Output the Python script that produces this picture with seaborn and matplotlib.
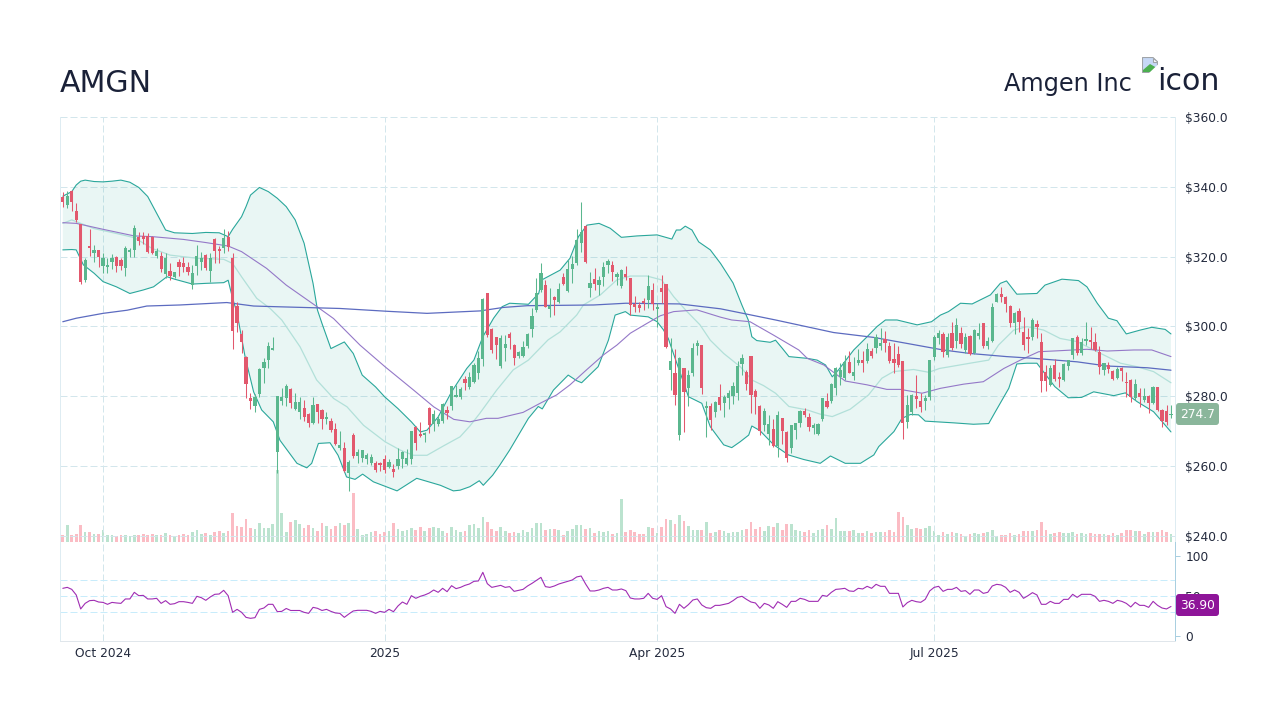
#!/usr/bin/env python3
# -*- coding: utf8 -*-

import numpy as np
import pandas as pd
import seaborn as sns
import matplotlib.pyplot as plt
from matplotlib.patches import FancyBboxPatch, Polygon
from matplotlib.transforms import IdentityTransform

symbol = 'AMGN'
company = 'Amgen Inc'

opens = [
    337.2, 334.8, 338.9, 333.0, 329.3, 313.3, 322.7, 321.1, 321.9, 317.4,
    317.1, 318.5, 320.0, 319.0, 316.6, 321.4, 322.0, 325.7, 326.0, 325.9,
    325.7, 320.1, 320.1, 315.0, 315.8, 314.0, 318.3, 318.1, 316.9, 311.8,
    317.3, 318.5, 320.4, 315.8, 325.0, 322.0, 322.3, 325.7, 319.5, 305.8,
    297.9, 291.2, 279.4, 277.1, 280.7, 287.9, 290.3, 293.3, 264.0, 278.6,
    279.3, 282.0, 276.4, 275.5, 276.7, 274.7, 272.4, 277.6, 275.9, 273.4,
    272.8, 270.5, 265.0, 265.0, 257.8, 268.8, 262.9, 262.3, 261.8, 260.7,
    260.8, 260.6, 261.9, 259.7, 259.0, 259.9, 261.8, 260.5, 261.8, 271.2,
    269.1, 268.8, 276.7, 271.9, 272.1, 272.9, 276.1, 277.1, 279.8, 279.8,
    284.8, 282.5, 284.1, 286.5, 290.5, 309.4, 299.1, 296.8, 288.5, 293.7,
    297.7, 294.6, 291.5, 291.5, 294.3, 299.1, 304.7, 310.4, 311.8, 305.0,
    308.5, 307.0, 314.0, 310.2, 316.3, 318.0, 324.0, 328.8, 311.0, 313.5,
    311.8, 314.2, 317.5, 317.5, 314.0, 311.5, 315.0, 313.7, 306.4, 306.1,
    307.2, 307.5, 310.4, 305.0, 311.1, 312.0, 287.5, 286.5, 268.8, 288.1,
    282.4, 286.5, 294.3, 294.6, 276.6, 277.1, 275.5, 279.6, 277.9, 279.3,
    280.0, 280.8, 289.2, 287.0, 291.5, 281.5, 277.1, 271.7, 269.1, 270.5,
    265.7, 273.6, 269.8, 265.2, 270.3, 272.4, 275.6, 274.1, 270.9, 269.1,
    273.3, 278.7, 278.7, 282.2, 285.4, 285.1, 289.8, 285.7, 289.4, 290.3,
    289.9, 293.0, 293.9, 294.3, 296.3, 294.3, 290.5, 292.1, 290.1, 272.6,
    275.5, 280.0, 278.6, 278.7, 279.6, 291.1, 296.7, 297.8, 291.8, 298.2,
    295.9, 298.2, 293.2, 297.3, 292.2, 297.3, 300.8, 294.3, 295.9, 307.0,
    309.2, 308.5, 305.8, 300.8, 304.4, 298.4, 297.0, 297.0, 300.6, 295.4,
    287.0, 283.1, 288.8, 285.5, 284.6, 288.6, 291.8, 296.8, 292.2, 295.8,
    295.9, 295.4, 292.7, 287.6, 288.9, 287.1, 285.3, 287.9, 284.1, 284.6,
    279.5, 280.9, 278.8, 280.0, 277.9, 282.5, 276.0, 275.7, 274.5]

closes = [
    335.7, 337.3, 335.5, 330.5, 312.8, 319.0, 322.5, 322.0, 319.8, 319.5,
    317.6, 319.6, 317.4, 317.4, 322.5, 321.9, 328.3, 324.5, 325.0, 321.4,
    320.9, 321.7, 316.4, 319.5, 314.4, 315.5, 316.9, 317.1, 315.6, 315.4,
    320.1, 319.5, 316.6, 319.5, 321.7, 321.7, 325.2, 322.6, 298.7, 301.0,
    295.5, 283.3, 278.6, 279.6, 287.7, 289.8, 294.3, 293.9, 280.0, 279.8,
    282.8, 277.9, 278.2, 278.2, 274.0, 272.3, 277.3, 275.5, 273.3, 274.0,
    270.2, 266.2, 265.9, 258.6, 261.0, 262.8, 264.0, 264.4, 263.0, 262.4,
    258.9, 260.3, 258.7, 261.0, 258.3, 261.8, 264.0, 262.1, 269.9, 266.6,
    268.5, 269.5, 271.6, 274.7, 273.3, 277.6, 275.2, 282.8, 280.1, 281.9,
    283.8, 285.5, 288.9, 291.0, 307.7, 297.5, 293.2, 294.6, 296.5, 294.9,
    296.7, 290.8, 292.7, 294.0, 297.8, 302.9, 309.4, 315.4, 305.6, 305.8,
    307.5, 310.7, 312.0, 316.4, 317.8, 324.7, 327.1, 318.5, 312.3, 312.1,
    313.4, 316.9, 318.7, 315.6, 315.0, 316.1, 314.0, 306.1, 305.4, 305.3,
    306.6, 311.4, 306.4, 305.5, 309.7, 294.1, 289.9, 280.3, 290.8, 281.2,
    286.0, 293.7, 295.3, 282.2, 277.1, 273.1, 278.4, 277.4, 279.6, 280.8,
    282.9, 288.6, 290.8, 283.4, 280.3, 279.8, 270.1, 275.8, 272.0, 265.7,
    274.6, 270.1, 262.1, 271.7, 272.4, 275.7, 274.6, 271.0, 271.7, 272.0,
    279.3, 276.8, 283.4, 287.9, 287.5, 289.8, 286.7, 286.8, 290.3, 289.6,
    293.4, 291.6, 297.0, 295.3, 295.3, 289.9, 289.4, 288.9, 272.2, 277.4,
    280.3, 279.0, 276.8, 279.3, 290.3, 296.8, 298.0, 292.7, 296.8, 293.9,
    300.4, 294.9, 297.0, 292.0, 298.9, 298.0, 294.4, 295.8, 305.6, 309.2,
    308.5, 306.3, 301.0, 303.7, 301.3, 294.6, 296.3, 301.8, 299.9, 284.4,
    284.4, 288.1, 284.8, 284.8, 289.2, 290.3, 296.5, 292.2, 295.6, 296.3,
    295.6, 293.2, 288.4, 289.4, 287.7, 285.0, 287.7, 287.2, 283.6, 279.8,
    283.4, 279.8, 280.0, 278.1, 282.7, 276.0, 272.9, 272.6, 274.7]

highs = [
    338.6, 338.9, 339.1, 335.2, 329.3, 319.7, 327.8, 323.3, 322.0, 320.9,
    319.5, 320.6, 320.1, 319.5, 323.0, 322.3, 329.0, 327.0, 327.1, 326.6,
    325.9, 322.3, 321.4, 320.9, 318.2, 315.7, 319.2, 319.9, 318.5, 317.6,
    323.3, 321.4, 320.6, 320.9, 325.2, 323.0, 328.0, 327.4, 321.1, 307.0,
    298.9, 291.4, 280.9, 280.7, 288.1, 290.8, 295.4, 297.0, 280.0, 282.4,
    283.3, 282.2, 280.9, 279.6, 278.8, 275.0, 279.8, 277.7, 276.4, 275.5,
    273.8, 272.4, 270.0, 266.9, 261.6, 269.3, 264.7, 264.5, 263.7, 263.3,
    261.3, 261.1, 263.2, 261.8, 260.6, 265.0, 264.2, 264.7, 270.0, 271.4,
    272.6, 269.7, 276.9, 276.1, 274.5, 277.9, 277.1, 283.0, 283.1, 282.5,
    285.7, 287.0, 289.6, 293.0, 308.0, 309.5, 299.4, 297.0, 297.5, 297.5,
    298.4, 294.9, 293.0, 295.9, 298.0, 305.1, 313.7, 318.0, 313.2, 310.9,
    308.7, 312.3, 315.2, 319.0, 320.2, 328.0, 335.7, 329.0, 315.6, 316.6,
    314.4, 318.5, 319.2, 318.8, 315.6, 316.3, 317.3, 313.9, 308.7, 307.0,
    308.0, 314.7, 312.5, 306.6, 314.7, 312.0, 296.5, 293.5, 291.3, 288.1,
    287.5, 295.1, 296.0, 294.6, 278.5, 278.1, 278.6, 283.3, 280.3, 281.7,
    284.1, 289.9, 292.0, 287.6, 291.5, 282.0, 277.4, 276.5, 274.6, 273.4,
    275.8, 273.8, 270.0, 271.7, 272.4, 276.0, 276.7, 275.2, 272.4, 272.4,
    279.5, 281.0, 283.6, 288.4, 289.4, 291.8, 293.0, 291.3, 293.4, 293.0,
    295.3, 293.7, 297.8, 299.4, 298.6, 295.6, 295.1, 294.2, 290.1, 280.3,
    280.6, 286.0, 281.0, 280.3, 290.4, 297.5, 298.9, 298.4, 298.0, 301.3,
    302.3, 299.9, 298.0, 297.5, 299.1, 300.8, 301.0, 297.0, 306.6, 309.4,
    311.2, 308.7, 306.1, 304.2, 305.1, 302.7, 299.4, 302.3, 301.8, 298.0,
    288.9, 288.9, 290.5, 287.0, 289.4, 290.4, 296.7, 297.5, 296.7, 301.3,
    299.7, 298.0, 294.3, 289.6, 289.8, 287.4, 288.2, 288.4, 287.0, 284.8,
    285.0, 282.2, 282.2, 280.3, 282.9, 282.7, 276.2, 277.4, 277.4]

lows = [
    334.3, 333.8, 333.1, 330.0, 312.0, 312.8, 320.1, 318.5, 316.9, 315.4,
    315.2, 316.3, 315.6, 316.1, 314.5, 320.0, 320.0, 323.3, 323.6, 320.9,
    320.7, 319.5, 315.6, 313.7, 313.4, 313.7, 314.4, 315.6, 314.7, 310.6,
    314.7, 316.1, 316.1, 312.8, 318.0, 318.2, 320.9, 321.6, 293.6, 298.4,
    292.2, 279.3, 276.3, 275.3, 279.8, 283.8, 287.9, 293.2, 257.8, 277.4,
    277.1, 276.7, 276.0, 273.3, 272.9, 271.2, 271.9, 272.3, 270.4, 271.9,
    269.7, 265.9, 264.5, 258.3, 252.8, 262.1, 260.7, 261.0, 260.5, 260.2,
    258.3, 258.5, 258.0, 259.4, 256.8, 259.2, 259.5, 260.2, 260.5, 264.5,
    268.3, 266.9, 269.3, 270.0, 271.4, 272.3, 273.3, 275.9, 279.8, 279.1,
    281.7, 281.9, 283.6, 285.0, 288.5, 297.0, 292.4, 290.5, 288.0, 290.0,
    293.4, 289.0, 290.8, 291.3, 293.7, 297.0, 304.2, 309.9, 305.4, 302.7,
    303.2, 306.8, 311.8, 309.9, 312.3, 317.5, 321.4, 318.2, 308.5, 310.4,
    309.0, 311.5, 315.2, 313.1, 311.8, 310.9, 313.3, 303.2, 304.2, 304.2,
    304.7, 305.1, 304.8, 299.9, 306.6, 293.7, 281.7, 277.4, 267.4, 269.8,
    277.1, 285.7, 291.8, 280.6, 268.3, 270.2, 274.1, 276.0, 274.1, 276.2,
    277.7, 278.9, 286.0, 281.7, 275.0, 274.8, 268.8, 270.1, 266.0, 265.5,
    262.6, 266.2, 261.2, 263.8, 267.6, 271.2, 274.1, 270.1, 269.0, 268.8,
    272.8, 276.5, 277.9, 280.3, 283.2, 284.6, 286.5, 284.6, 288.9, 287.0,
    289.6, 290.8, 292.4, 293.2, 292.7, 289.4, 286.5, 288.4, 267.6, 270.7,
    274.6, 276.5, 275.5, 276.0, 278.9, 290.3, 294.9, 291.1, 291.1, 293.2,
    293.7, 293.7, 292.4, 291.7, 292.0, 296.3, 293.7, 293.4, 295.6, 306.9,
    307.0, 304.2, 299.9, 297.8, 298.4, 293.2, 292.4, 296.2, 296.5, 281.2,
    281.5, 282.8, 284.4, 282.5, 284.4, 287.4, 290.5, 291.7, 291.7, 294.6,
    293.4, 293.0, 286.3, 286.0, 286.5, 284.6, 285.0, 284.3, 279.8, 278.4,
    278.8, 276.9, 278.4, 275.0, 277.7, 275.7, 271.2, 271.7, 273.6]

# millions of shares
volumes = [
    2.0, 5.0, 2.0, 2.5, 5.0, 2.9, 2.9, 2.5, 2.5, 3.5,
    2.0, 2.0, 1.7, 2.0, 2.0, 1.7, 2.0, 2.0, 2.3, 2.0,
    2.3, 2.0, 2.0, 2.6, 2.0, 1.7, 2.0, 2.3, 2.0, 2.9,
    3.5, 2.3, 2.6, 2.0, 2.9, 3.2, 2.6, 3.2, 8.6, 4.7,
    4.4, 6.8, 4.1, 3.8, 5.6, 4.1, 4.1, 5.3, 21.6, 8.6,
    2.9, 5.9, 6.5, 5.3, 4.1, 5.0, 4.1, 3.2, 5.6, 4.7,
    3.8, 4.7, 5.6, 5.0, 5.6, 14.6, 3.8, 2.0, 2.3, 2.9,
    3.2, 2.3, 2.9, 3.2, 5.6, 3.8, 3.2, 3.5, 4.1, 3.5,
    4.4, 3.2, 4.1, 4.4, 4.1, 3.2, 2.6, 4.4, 3.5, 2.9,
    3.2, 5.0, 5.3, 4.1, 7.4, 5.9, 3.8, 3.2, 4.4, 3.2,
    2.6, 2.9, 2.6, 3.5, 2.9, 4.1, 5.6, 5.6, 3.5, 3.8,
    3.8, 3.5, 2.0, 3.2, 3.8, 5.0, 5.0, 3.8, 4.1, 2.6,
    3.2, 2.9, 3.2, 2.3, 2.6, 12.8, 2.9, 3.5, 2.9, 2.3,
    2.3, 4.4, 4.1, 2.6, 4.4, 6.8, 6.5, 5.3, 8.0, 6.2,
    4.7, 3.5, 3.5, 3.5, 5.9, 2.6, 2.9, 3.5, 3.2, 2.6,
    2.9, 2.9, 3.5, 3.8, 5.9, 3.8, 4.4, 3.2, 4.7, 4.4,
    5.6, 3.5, 5.3, 5.3, 3.5, 3.2, 2.9, 3.5, 2.6, 3.5,
    3.8, 5.0, 3.8, 7.1, 3.2, 3.2, 3.2, 3.5, 2.6, 2.6,
    3.2, 2.6, 2.9, 2.9, 2.9, 3.5, 2.9, 8.9, 7.4, 5.0,
    3.8, 4.1, 3.8, 4.1, 4.7, 3.2, 2.0, 2.9, 2.3, 2.9,
    2.6, 2.3, 1.7, 2.3, 2.6, 2.3, 2.6, 2.9, 3.5, 1.7,
    2.0, 2.0, 2.6, 2.0, 2.3, 3.2, 3.2, 3.2, 3.5, 5.9,
    3.5, 2.3, 2.6, 2.9, 2.6, 2.6, 2.9, 2.3, 2.6, 2.3,
    2.6, 2.3, 2.3, 2.3, 2.0, 2.6, 2.0, 2.6, 3.5, 3.5,
    3.2, 3.2, 2.3, 2.9, 2.9, 2.9, 3.5, 2.9, 2.3]

rsi = [
    59.6, 60.8, 58.3, 51.3, 33.8, 40.8, 44.2, 44.6, 42.5, 42.0,
    39.6, 42.0, 41.3, 40.8, 46.3, 46.3, 54.6, 50.4, 50.8, 46.3,
    46.3, 47.1, 40.8, 44.2, 39.6, 40.4, 42.9, 42.9, 42.0, 40.8,
    49.6, 47.9, 44.6, 48.8, 52.1, 52.5, 57.1, 50.4, 29.6, 33.3,
    29.6, 23.3, 22.1, 22.9, 33.3, 35.0, 39.6, 39.6, 30.4, 30.8,
    34.4, 31.9, 31.9, 31.9, 29.6, 28.3, 35.8, 34.6, 31.9, 33.3,
    30.8, 28.8, 28.3, 23.3, 27.5, 31.3, 32.1, 32.1, 32.1, 30.8,
    28.3, 30.8, 29.6, 33.3, 30.4, 37.5, 42.5, 39.6, 50.4, 47.1,
    49.6, 51.3, 53.7, 57.5, 54.6, 59.6, 55.4, 62.9, 59.2, 60.8,
    63.3, 65.0, 68.3, 68.8, 79.6, 65.4, 60.8, 62.1, 63.3, 60.8,
    61.7, 55.8, 57.1, 58.3, 62.5, 65.8, 69.6, 73.3, 61.7, 60.8,
    62.5, 65.0, 66.7, 68.3, 70.0, 73.8, 75.0, 65.0, 56.3, 56.3,
    57.5, 59.6, 60.8, 57.5, 57.5, 58.8, 56.7, 47.5, 46.3, 46.3,
    47.1, 53.3, 47.1, 45.8, 50.4, 36.7, 33.8, 28.3, 39.6, 34.6,
    39.2, 45.0, 46.3, 38.8, 35.4, 34.6, 38.3, 38.3, 39.6, 40.8,
    44.2, 48.3, 49.6, 45.8, 42.5, 41.3, 34.6, 40.8, 38.8, 34.6,
    42.9, 39.6, 35.8, 43.3, 43.3, 47.1, 45.8, 43.3, 43.3, 43.3,
    50.8, 49.6, 54.6, 58.3, 58.8, 59.6, 56.3, 55.8, 59.6, 58.8,
    62.1, 59.6, 64.6, 62.1, 62.1, 53.3, 53.3, 53.3, 36.3, 41.7,
    44.6, 42.9, 42.1, 45.8, 56.3, 60.8, 62.1, 55.8, 58.3, 58.3,
    60.8, 55.8, 56.7, 52.1, 57.5, 57.5, 53.3, 54.6, 62.5, 64.6,
    63.8, 60.8, 54.6, 57.5, 54.6, 47.1, 50.4, 54.2, 51.3, 39.6,
    39.6, 43.3, 40.8, 40.8, 45.8, 45.8, 52.1, 48.3, 52.1, 52.1,
    52.1, 49.6, 43.3, 44.6, 43.3, 40.8, 44.6, 43.3, 40.8, 36.3,
    42.1, 38.3, 38.3, 35.8, 43.3, 38.3, 35.0, 33.8, 36.9]

# overlays are kept as the vertices: trading day, price
upper_days = [0, 2, 3, 4, 5, 7, 9, 11, 13, 15, 17, 19, 21, 23, 25, 29, 32, 35, 37, 38,
              40, 41, 42, 44, 46, 48, 50, 52, 54, 56, 57, 58, 60, 63, 65, 67, 70, 72, 75, 78,
              80, 81.5, 84, 87, 90.4, 92, 94, 96.4, 98.3, 100, 104.2, 106.5, 107.2, 111.3, 113.5, 115.4, 117.3, 120, 122.5, 125,
              128.5, 133, 136.3, 137.3, 138.2, 139.3, 140.8, 142.3, 144.9, 147.2, 150, 152, 153.4, 154.2, 155.3, 158.3, 159.5, 161, 162.5, 166.6,
              168.8, 170.7, 172.2, 173.6, 177, 180, 182.2, 184.1, 186.7, 191.2, 194.4, 196.4, 198.2, 200.9, 203.5, 207.6, 209.8, 211.2, 213.5, 218,
              219.8, 223.6, 227.3, 229.2, 231.5, 234, 235.9, 238, 241.1, 243.7, 246.7, 248]
upper_band = [337.3, 338.6, 340.5, 341.6, 341.9, 341.5, 341.4, 341.6, 341.9, 341.3, 339.8, 337.2, 332.4, 327.6, 326.8, 326.6, 326.9, 326.8, 325.7, 327.8,
              331.4, 334.3, 337.6, 339.8, 338.6, 336.7, 334.3, 330.5, 323.8, 312.3, 304.6, 300.8, 293.6, 295.5, 292.2, 286.0, 282.6, 279.8, 276.4, 272.6,
              269.7, 270.2, 274.0, 281.2, 287.9, 290.3, 297.0, 302.3, 305.6, 306.6, 306.3, 309.4, 313.3, 316.1, 319.5, 325.7, 329.0, 329.5, 328.1, 325.5,
              325.9, 326.2, 325.0, 327.6, 327.6, 328.7, 327.6, 324.2, 321.9, 318.0, 312.4, 306.0, 301.8, 297.0, 295.9, 295.4, 296.0, 293.7, 291.3, 290.8,
              290.3, 288.9, 285.5, 287.5, 293.2, 297.0, 299.9, 301.8, 301.8, 300.4, 301.3, 303.2, 304.2, 306.6, 306.4, 309.0, 312.3, 313.0, 309.2, 309.4,
              311.8, 313.5, 313.1, 311.3, 306.6, 302.3, 301.6, 297.8, 298.9, 299.7, 299.1, 297.8]

lower_days = [0, 2, 3, 4.6, 7, 9, 12, 15, 18, 20.3, 23.3, 25, 29, 32, 36, 37, 38, 39, 40.8, 42.7,
              44.5, 47.1, 48.6, 52.4, 54.6, 55.7, 57.2, 59.8, 61.6, 63.5, 65.4, 67.1, 69.5, 74.8, 79.2, 84.5, 87.4, 88.9, 91.1, 93.2,
              94.1, 96.2, 97.8, 100, 104.2, 106.4, 107.3, 109.8, 113.1, 115, 116.1, 119.8, 122.1, 123.6, 125.9, 127, 131, 133, 134.4, 135.5,
              136.7, 139, 140, 143, 144.9, 147.9, 149.7, 151.6, 153.5, 154.2, 156, 159.1, 162.4, 165.8, 169.5, 171.8, 175.1, 178.5, 181.5, 182.6,
              186, 187.8, 189.7, 191.5, 193, 199.4, 203.8, 207.2, 208.7, 211.7, 213.5, 215.8, 218, 222, 225, 228, 230.7, 235.2, 237.8, 240.4,
              244.1, 246.4, 248]
lower_band = [321.9, 322.0, 321.9, 317.6, 315.2, 312.8, 311.3, 309.4, 310.4, 311.3, 314.2, 313.5, 312.1, 312.3, 312.5, 313.2, 308.0, 303.7, 291.2, 281.2,
              276.0, 272.6, 267.3, 260.7, 259.4, 260.7, 266.4, 266.6, 263.0, 256.8, 256.1, 257.6, 255.4, 252.8, 256.4, 254.4, 252.8, 253.0, 254.0, 255.7,
              254.4, 257.3, 260.2, 264.5, 273.6, 277.0, 276.3, 281.7, 286.0, 284.4, 283.8, 288.4, 296.0, 303.2, 304.2, 303.2, 302.7, 301.3, 299.0, 296.5,
              292.0, 283.6, 279.8, 277.9, 271.2, 266.0, 265.2, 266.9, 268.8, 271.4, 270.1, 266.0, 263.1, 261.8, 260.7, 262.8, 260.7, 260.7, 263.1, 265.5,
              269.8, 273.6, 274.7, 274.6, 272.8, 272.3, 271.9, 272.1, 275.5, 282.2, 289.2, 289.4, 289.4, 282.7, 279.5, 279.6, 281.2, 280.1, 280.9, 278.4,
              275.5, 272.1, 269.7]

mid_days = [0, 2, 3, 7, 12, 16, 20, 24, 30, 36, 38, 40, 43.4, 46.4, 49, 53.1, 56.8, 60.6, 63.6, 67.3,
            72.1, 75.5, 78.5, 81.5, 85.2, 88.9, 91.1, 93.3, 97.1, 100.8, 104.2, 108.6, 111.3, 115, 116.5, 120.3, 124, 127, 130.7, 134,
            136.7, 139.7, 142.6, 144.9, 147.9, 151.6, 154.2, 156.8, 159.5, 162.5, 166.6, 169.5, 172.2, 176.2, 180.3, 183.3, 185.9, 190.4, 193.8, 196.2,
            199.4, 203, 207.2, 209.4, 212.8, 215.8, 219.5, 223.2, 227, 230.7, 233.7, 236.7, 240.4, 244.1, 248]
mid_band = [329.5, 330.5, 330.0, 328.0, 326.6, 325.4, 322.3, 320.4, 319.5, 319.2, 318.0, 314.2, 308.0, 305.1, 301.8, 294.1, 284.6, 279.3, 276.9, 271.6,
            266.9, 264.5, 263.0, 263.0, 265.7, 268.3, 271.4, 275.0, 281.7, 287.5, 290.3, 296.1, 298.4, 303.2, 306.1, 309.0, 313.3, 314.4, 314.4, 313.3,
            308.5, 304.2, 300.4, 296.0, 292.2, 288.4, 284.6, 283.0, 280.8, 277.0, 276.0, 274.8, 274.1, 276.2, 280.3, 285.1, 287.0, 287.6, 286.8, 287.9,
            288.6, 289.4, 290.3, 294.6, 298.9, 299.9, 298.9, 296.5, 295.6, 293.2, 291.3, 289.4, 288.4, 287.0, 283.8]

sma50_days = [0, 3, 9, 16, 20, 27, 32, 37, 40, 45.6, 50, 56.9, 60.6, 66.5, 72.1, 78.5, 83, 87.5, 91.1, 94.8,
              97.4, 103, 106.8, 110.5, 113.5, 117.2, 121, 124, 127, 130.7, 133.7, 136.7, 141.9, 147.2, 149.7, 153.8, 159, 164.7, 166.6, 170.3,
              175.1, 180, 184.4, 187.4, 192.3, 196.4, 201.6, 206, 210.6, 214.3, 218.4, 223.2, 229.2, 233.7, 239.7, 243.7, 248]
sma50 = [329.7, 329.5, 327.8, 325.9, 325.7, 324.9, 324.0, 323.0, 321.4, 316.6, 311.8, 305.6, 302.2, 294.6, 288.4, 281.7, 276.9, 273.3, 272.6, 273.6,
         273.6, 275.3, 277.9, 280.3, 283.2, 287.5, 291.8, 294.6, 298.0, 300.8, 303.0, 304.2, 304.7, 302.6, 301.8, 301.3, 297.5, 293.2, 290.8, 288.9,
         284.3, 283.2, 281.9, 281.9, 280.8, 282.2, 283.4, 284.1, 287.9, 290.3, 292.7, 293.0, 293.4, 292.9, 293.2, 293.2, 291.3]

sma200_days = [0, 3, 9, 14.4, 18.8, 26.2, 30.7, 36.7, 42.7, 47.9, 62, 72.5, 81.5, 93.4, 98.6, 104, 118.8, 126, 138, 147.2,
               153, 159.5, 172.5, 181.5, 189.7, 197, 203, 211.2, 217.3, 227, 233.7, 242.7, 248]
sma200 = [301.3, 302.3, 303.7, 304.6, 305.8, 306.1, 306.4, 306.8, 305.8, 305.6, 305.1, 304.3, 303.7, 304.4, 305.4, 305.9, 306.1, 306.6, 306.4, 305.0,
          303.5, 301.8, 298.2, 296.8, 294.9, 293.2, 292.2, 291.3, 290.8, 289.8, 288.6, 288.1, 287.4]

month_ticks = [9, 72, 133, 195]
month_labels = ['Oct 2024', '2025', 'Apr 2025', 'Jul 2025']
price_ticks = [240, 260, 280, 300, 320, 340, 360]
rsi_ticks = [0, 50, 100]
rsi_levels = [30, 50, 70]

UP = '#5ab78e'
DOWN = '#e2586d'
UP_VOL = '#bbe3cf'
DOWN_VOL = '#fbbcc4'
TEXT = '#232a3d'
GRID = '#d3e6ec'
EDGE = '#deecf2'
BAND = '#2aa79b'
TICK_SIZE = 8.8
W, H = 1280, 720


def rect(left, top, right, bottom):
    return [left / W, 1 - bottom / H, (right - left) / W, (bottom - top) / H]


def label_box(fig, top, colour, text):
    fig.add_artist(FancyBboxPatch((1176, H - top - 22), 43, 22, transform=IdentityTransform(),
                                  boxstyle='round,pad=0,rounding_size=3', fc=colour, ec='none', zorder=5))
    fig.text(1197.5 / W, 1 - (top + 11.5) / H, text, color='white', fontsize=TICK_SIZE,
             ha='center', va='center', zorder=6)


sns.set_theme(style='white')
plt.rcParams['font.family'] = ['DejaVu Sans']

days = np.arange(len(closes))
df = pd.DataFrame({'day': days, 'open': opens, 'close': closes, 'high': highs,
                   'low': lows, 'volume': volumes, 'rsi': rsi})
df['dir'] = np.where(df['close'] >= df['open'], 'up', 'down')

fig = plt.figure(figsize=(W / 100, H / 100), dpi=100, facecolor='white')
xlim = (-0.63, 248.9)

# volume sits behind the price pane, on its own scale
vol_ax = fig.add_axes(rect(60, 117, 1175, 542))
sns.barplot(data=df, x='day', y='volume', hue='dir', palette={'up': UP_VOL, 'down': DOWN_VOL},
            native_scale=True, dodge=False, width=0.6, saturation=1, legend=False,
            linewidth=0, edgecolor='none', ax=vol_ax)
vol_ax.set_xlim(xlim)
vol_ax.set_ylim(0, 127.5)
vol_ax.axis('off')

ax = fig.add_axes(rect(60, 117, 1175, 542), facecolor='none')
ax.fill(np.r_[upper_days, lower_days[::-1]], np.r_[upper_band, lower_band[::-1]],
        color=BAND, alpha=0.1, lw=0, zorder=1)
sns.lineplot(x=upper_days, y=upper_band, color=BAND, lw=0.8, ax=ax, zorder=2)
sns.lineplot(x=lower_days, y=lower_band, color=BAND, lw=0.8, ax=ax, zorder=2)
sns.lineplot(x=mid_days, y=mid_band, color='#b2e0d9', lw=0.9, ax=ax, zorder=2)
sns.lineplot(x=sma50_days, y=sma50, color='#9478c8', lw=0.8, ax=ax, zorder=2)
sns.lineplot(x=sma200_days, y=sma200, color='#5c6bc0', lw=0.9, ax=ax, zorder=2)

colours = np.where(df['dir'] == 'up', UP, DOWN)
ax.vlines(df['day'], df['low'], df['high'], colors=colours, lw=0.75, zorder=3)
ax.bar(df['day'], (df['close'] - df['open']).abs().clip(lower=0.4),
       bottom=df[['open', 'close']].min(axis=1), width=0.72, color=colours, lw=0, zorder=4)

ax.set_xlim(xlim)
ax.set_ylim(238.14, 360)
ax.set_xticks(month_ticks)
ax.set_yticks(price_ticks)
ax.set_yticklabels([f'${p:.1f}' for p in price_ticks])
ax.set_xlabel('')
ax.set_ylabel('')
ax.yaxis.tick_right()
ax.tick_params(axis='y', length=0, pad=7, labelsize=TICK_SIZE, labelcolor=TEXT)
ax.tick_params(axis='x', length=0, labelbottom=False)
ax.grid(True, color=GRID, lw=0.72, linestyle=(0, (7, 3)), zorder=0)
ax.set_axisbelow(True)
ax.spines['top'].set_visible(False)
ax.spines['bottom'].set_visible(False)
ax.spines['left'].set_color(EDGE)
ax.spines['right'].set_color(EDGE)
ax.spines['left'].set_linewidth(0.72)
ax.spines['right'].set_linewidth(0.72)

# RSI pane
rsi_ax = fig.add_axes(rect(60, 542, 1175, 641), facecolor='none')
for level in rsi_levels:
    rsi_ax.axhline(level, color='#c8ecfb', lw=0.72, linestyle=(0, (7, 3)), zorder=1)
sns.lineplot(data=df, x='day', y='rsi', color='#a02db3', lw=0.8, ax=rsi_ax, zorder=3)
rsi_ax.set_xlim(xlim)
rsi_ax.set_ylim(-6.25, 117.5)
rsi_ax.set_xticks(month_ticks)
rsi_ax.set_xticklabels(month_labels)
rsi_ax.set_yticks(rsi_ticks)
rsi_ax.set_xlabel('')
rsi_ax.set_ylabel('')
rsi_ax.yaxis.tick_right()
rsi_ax.tick_params(axis='y', length=3.5, width=0.72, color='#a9cfe0', pad=4, labelsize=TICK_SIZE, labelcolor=TEXT)
rsi_ax.tick_params(axis='x', length=0, pad=4, labelsize=TICK_SIZE, labelcolor=TEXT)
rsi_ax.grid(True, axis='x', color=GRID, lw=0.72, linestyle=(0, (7, 3)), zorder=0)
rsi_ax.set_axisbelow(True)
rsi_ax.spines['top'].set_visible(False)
rsi_ax.spines['left'].set_color(EDGE)
rsi_ax.spines['right'].set_color('#a9cfe0')
rsi_ax.spines['bottom'].set_color('#e0e6eb')
for side in ['left', 'right', 'bottom']:
    rsi_ax.spines[side].set_linewidth(0.72)

label_box(fig, 403, '#8ab69b', f'{closes[-1]:.1f}')
label_box(fig, 594, '#8e1599', f'{rsi[-1]:.2f}')

fig.text(60 / W, 1 - 92.5 / H, symbol, fontsize=21.6, color='#1a2138', ha='left', va='baseline')
fig.text(1132 / W, 1 - 91.5 / H, company, fontsize=17.3, color='#1a2138', ha='right', va='baseline')
fig.text(1220 / W, 1 - 90 / H, 'icon', fontsize=21.6, color='#1a2138', ha='right', va='baseline')

# the broken image glyph in front of "icon"
icon = fig.add_axes(rect(1142, 57, 1158, 73))
icon.set_xlim(0, 16)
icon.set_ylim(16, 0)
icon.axis('off')
icon.add_patch(Polygon([(0.5, 0.5), (11, 0.5), (15.5, 5), (15.5, 15.5), (0.5, 15.5)], fc='#c6d8f6', ec='#a0a4a8', lw=0.8))
icon.add_patch(Polygon([(1, 15), (1, 13), (8, 7), (15, 11), (15, 15)], fc='#4caf50', ec='none'))
icon.add_patch(Polygon([(7, 16), (16, 7.5), (16, 16)], fc='white', ec='none'))
icon.add_patch(Polygon([(11, 0.5), (11, 5), (15.5, 5)], fc='white', ec='#a0a4a8', lw=0.8))

fig.savefig('out.png', dpi=100)
